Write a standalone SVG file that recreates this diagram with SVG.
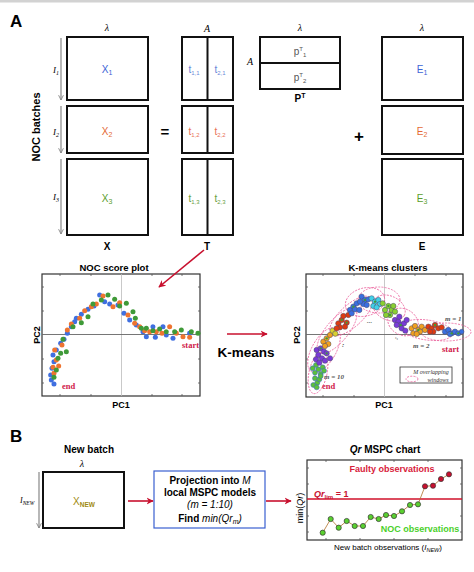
<svg xmlns="http://www.w3.org/2000/svg" width="474" height="572" viewBox="0 0 474 572">
<defs>
<style>
text{font-family:"Liberation Sans",Arial,sans-serif}
.mat{fill:#fff;stroke:#111;stroke-width:2}
.dv{stroke:#111;stroke-width:2}
.l{font-size:10px;text-anchor:middle}
.s{font-size:7px}
.b{font-weight:bold}
.it{font-style:italic;font-family:"Liberation Serif",serif}
.bl{fill:#3c64d6}
.or{fill:#e46a35}
.gr{fill:#5a9e2c}
.tbl{fill:#6a88d8}
.tor{fill:#e87058}
.tgr{fill:#6aa044}
.gax{stroke:#888;stroke-width:1.2;fill:none}
.frame{fill:#fff;stroke:#333;stroke-width:1.2}
.cv{stroke:#bbb;stroke-width:0.8}
.chz{stroke:#666;stroke-width:0.9}
.tk{stroke:#555;stroke-width:0.8}
.rl{stroke:#c8102e;stroke-width:1.6;fill:none}
.ell{fill:none;stroke:#ea5f9b;stroke-width:0.8;stroke-dasharray:2 1.2}
.pb{fill:#3f6fe0}
.po{fill:#ee7430}
.pg{fill:#3f9a38}
.kd{stroke:#4a4a6a;stroke-width:1.5}
.ml{font-size:7px;font-style:italic;font-family:"Liberation Serif",serif;fill:#555;font-weight:bold}
.se{font-family:"Liberation Serif",serif;font-weight:bold;font-size:8.5px;fill:#d0204a}
</style>
<marker id="ga" viewBox="0 0 10 10" refX="9" refY="5" markerWidth="5" markerHeight="5" orient="auto"><path d="M1,1 L9,5 L1,9" fill="none" stroke="#888" stroke-width="1.5"/></marker>
<marker id="ra" viewBox="0 0 10 10" refX="9" refY="5" markerWidth="4.5" markerHeight="4.5" orient="auto"><path d="M0,0 L10,5 L0,10 L3,5 z" fill="#c8102e"/></marker>
</defs>
<rect x="0" y="0" width="474" height="572" fill="#fff"/>
<rect x="0" y="0" width="474" height="2.5" fill="#d2d2d2"/>

<text x="10" y="27" font-size="17" class="b">A</text>
<text x="10" y="442" font-size="17" class="b">B</text>

<g id="matrix-X">
<rect class="mat" x="67" y="37" width="81" height="63"/>
<rect class="mat" x="67" y="106" width="81" height="47"/>
<rect class="mat" x="67" y="159" width="81" height="76"/>
<text class="l bl" x="107" y="73">X<tspan class="s" dy="2">1</tspan></text>
<text class="l or" x="107" y="135">X<tspan class="s" dy="2">2</tspan></text>
<text class="l gr" x="107" y="202">X<tspan class="s" dy="2">3</tspan></text>
<text class="l it" x="107" y="31" font-size="9">λ</text>
<text class="l b" x="107" y="250">X</text>
<text class="it" x="53" y="73" font-size="9">I<tspan font-size="6" dy="2">1</tspan></text>
<text class="it" x="53" y="135" font-size="9">I<tspan font-size="6" dy="2">2</tspan></text>
<text class="it" x="53" y="200" font-size="9">I<tspan font-size="6" dy="2">3</tspan></text>
<line class="gax" x1="61" y1="38" x2="61" y2="100" marker-end="url(#ga)"/>
<line class="gax" x1="61" y1="106" x2="61" y2="153" marker-end="url(#ga)"/>
<line class="gax" x1="61" y1="159" x2="61" y2="234" marker-end="url(#ga)"/>
<text class="b" x="0" y="0" font-size="11" text-anchor="middle" transform="translate(40,127) rotate(-90)">NOC batches</text>
</g>

<text x="165" y="137" font-size="15" class="b" text-anchor="middle">=</text>

<g id="matrix-T">
<rect class="mat" x="182" y="37" width="51" height="63"/>
<rect class="mat" x="182" y="106" width="51" height="47"/>
<rect class="mat" x="182" y="159" width="51" height="76"/>
<line class="dv" x1="207.5" y1="37" x2="207.5" y2="100"/>
<line class="dv" x1="207.5" y1="106" x2="207.5" y2="153"/>
<line class="dv" x1="207.5" y1="159" x2="207.5" y2="235"/>
<text class="l tbl" x="194" y="73" font-size="9">t<tspan font-size="6" dy="2">1,1</tspan></text>
<text class="l tbl" x="220" y="73" font-size="9">t<tspan font-size="6" dy="2">2,1</tspan></text>
<text class="l tor" x="194" y="135" font-size="9">t<tspan font-size="6" dy="2">1,2</tspan></text>
<text class="l tor" x="220" y="135" font-size="9">t<tspan font-size="6" dy="2">2,2</tspan></text>
<text class="l tgr" x="194" y="202" font-size="9">t<tspan font-size="6" dy="2">1,3</tspan></text>
<text class="l tgr" x="220" y="202" font-size="9">t<tspan font-size="6" dy="2">2,3</tspan></text>
<text class="l it" x="207" y="32" font-size="9">A</text>
<text class="l b" x="207" y="250">T</text>
</g>

<g id="matrix-PT">
<rect class="mat" x="260" y="37" width="80" height="52"/>
<line class="dv" x1="260" y1="63" x2="340" y2="63"/>
<text class="l" x="300" y="55" font-size="9" style="fill:#555">p<tspan font-size="6" dy="-4">T</tspan><tspan font-size="6" dy="6">1</tspan></text>
<text class="l" x="300" y="81" font-size="9" style="fill:#555">p<tspan font-size="6" dy="-4">T</tspan><tspan font-size="6" dy="6">2</tspan></text>
<text class="l it" x="300" y="31" font-size="9">λ</text>
<text class="l it" x="250" y="65" font-size="9">A</text>
<text class="l b" x="300" y="102">P<tspan font-size="7" dy="-4">T</tspan></text>
</g>

<text x="359" y="142" font-size="17" class="b" text-anchor="middle">+</text>

<g id="matrix-E">
<rect class="mat" x="382" y="37" width="81" height="63"/>
<rect class="mat" x="382" y="106" width="81" height="48"/>
<rect class="mat" x="382" y="159" width="81" height="76"/>
<text class="l bl" x="422" y="73">E<tspan class="s" dy="2">1</tspan></text>
<text class="l or" x="422" y="135">E<tspan class="s" dy="2">2</tspan></text>
<text class="l gr" x="422" y="202">E<tspan class="s" dy="2">3</tspan></text>
<text class="l it" x="422" y="31" font-size="9">λ</text>
<text class="l b" x="422" y="250">E</text>
</g>

<g id="score-plot">
<text x="114" y="271" font-size="9.5" class="b" text-anchor="middle">NOC score plot</text>
<rect class="frame" x="42" y="274" width="158" height="122"/>
<line class="cv" x1="121.5" y1="274" x2="121.5" y2="396"/>
<line class="chz" x1="42" y1="334.5" x2="200" y2="334.5"/>
<path class="tk" d="M60,274v2M91,274v2M152,274v2M182,274v2M60,396v-2M91,396v-2M152,396v-2M182,396v-2M42,287h2M42,311h2M42,359h2M42,383h2M200,287h-2M200,311h-2M200,359h-2M200,383h-2"/>
<g transform="translate(38,280) scale(0.3333)">
<g class="pb">
<circle cx="40" cy="300" r="7.5"/><circle cx="48" cy="312" r="7.5"/><circle cx="38" cy="285" r="7.5"/><circle cx="42" cy="265" r="7.5"/><circle cx="48" cy="245" r="7.5"/><circle cx="45" cy="225" r="7.5"/><circle cx="55" cy="210" r="7.5"/><circle cx="68" cy="190" r="7.5"/><circle cx="78" cy="178" r="7.5"/><circle cx="88" cy="160" r="7.5"/><circle cx="100" cy="140" r="7.5"/><circle cx="110" cy="125" r="7.5"/><circle cx="115" cy="115" r="7.5"/><circle cx="130" cy="103" r="7.5"/><circle cx="150" cy="88" r="7.5"/><circle cx="168" cy="78" r="7.5"/><circle cx="185" cy="45" r="7.5"/><circle cx="200" cy="65" r="7.5"/><circle cx="215" cy="72" r="7.5"/><circle cx="240" cy="75" r="7.5"/><circle cx="258" cy="100" r="7.5"/><circle cx="275" cy="120" r="7.5"/><circle cx="295" cy="135" r="7.5"/><circle cx="315" cy="155" r="7.5"/><circle cx="325" cy="170" r="7.5"/><circle cx="352" cy="172" r="7.5"/><circle cx="385" cy="165" r="7.5"/><circle cx="405" cy="175" r="7.5"/><circle cx="345" cy="140" r="7.5"/><circle cx="375" cy="140" r="7.5"/><circle cx="455" cy="160" r="7.5"/>
</g>
<g class="po">
<circle cx="50" cy="210" r="7.5"/><circle cx="55" cy="240" r="7.5"/><circle cx="62" cy="258" r="7.5"/><circle cx="72" cy="195" r="7.5"/><circle cx="88" cy="150" r="7.5"/><circle cx="100" cy="132" r="7.5"/><circle cx="125" cy="115" r="7.5"/><circle cx="140" cy="92" r="7.5"/><circle cx="160" cy="80" r="7.5"/><circle cx="175" cy="72" r="7.5"/><circle cx="195" cy="48" r="7.5"/><circle cx="225" cy="80" r="7.5"/><circle cx="245" cy="68" r="7.5"/><circle cx="270" cy="105" r="7.5"/><circle cx="290" cy="130" r="7.5"/><circle cx="305" cy="140" r="7.5"/><circle cx="320" cy="152" r="7.5"/><circle cx="335" cy="155" r="7.5"/><circle cx="355" cy="155" r="7.5"/><circle cx="372" cy="160" r="7.5"/><circle cx="395" cy="140" r="7.5"/><circle cx="415" cy="160" r="7.5"/><circle cx="435" cy="170" r="7.5"/><circle cx="455" cy="172" r="7.5"/><circle cx="48" cy="280" r="7.5"/><circle cx="45" cy="262" r="7.5"/>
</g>
<g class="pg">
<circle cx="48" cy="292" r="7.5"/><circle cx="55" cy="270" r="7.5"/><circle cx="60" cy="235" r="7.5"/><circle cx="68" cy="220" r="7.5"/><circle cx="75" cy="178" r="7.5"/><circle cx="85" cy="215" r="7.5"/><circle cx="105" cy="140" r="7.5"/><circle cx="130" cy="128" r="7.5"/><circle cx="150" cy="110" r="7.5"/><circle cx="165" cy="72" r="7.5"/><circle cx="190" cy="60" r="7.5"/><circle cx="210" cy="45" r="7.5"/><circle cx="230" cy="58" r="7.5"/><circle cx="245" cy="78" r="7.5"/><circle cx="265" cy="70" r="7.5"/><circle cx="285" cy="95" r="7.5"/><circle cx="292" cy="115" r="7.5"/><circle cx="310" cy="145" r="7.5"/><circle cx="325" cy="145" r="7.5"/><circle cx="345" cy="152" r="7.5"/><circle cx="365" cy="147" r="7.5"/><circle cx="385" cy="155" r="7.5"/><circle cx="410" cy="155" r="7.5"/><circle cx="430" cy="150" r="7.5"/><circle cx="460" cy="155" r="7.5"/><circle cx="480" cy="160" r="7.5"/>
</g>
</g>
<text class="se" x="182" y="348">start</text>
<text class="se" x="62" y="389">end</text>
<text x="121" y="408" font-size="9" class="b" text-anchor="middle">PC1</text>
<text x="0" y="0" font-size="9" class="b" text-anchor="middle" transform="translate(40,335) rotate(-90)">PC2</text>
</g>

<g id="kmeans-plot">
<text x="388" y="271" font-size="9.5" class="b" text-anchor="middle">K-means clusters</text>
<rect class="frame" x="306" y="274" width="157" height="123"/>
<line class="cv" x1="384.5" y1="274" x2="384.5" y2="397"/>
<line class="chz" x1="306" y1="334.5" x2="463" y2="334.5"/>
<path class="tk" d="M323,274v2M354,274v2M415,274v2M446,274v2M323,397v-2M354,397v-2M415,397v-2M446,397v-2M306,287h2M306,311h2M306,359h2M306,383h2M463,287h-2M463,311h-2M463,359h-2M463,383h-2"/>
<g id="windows">
<ellipse class="ell" cx="318" cy="373" rx="9" ry="21" transform="rotate(12 318 373)"/>
<ellipse class="ell" cx="324" cy="350" rx="12" ry="25" transform="rotate(30 324 350)"/>
<ellipse class="ell" cx="337" cy="331" rx="11" ry="28" transform="rotate(40 337 331)"/>
<ellipse class="ell" cx="351" cy="316" rx="11" ry="27" transform="rotate(48 351 316)"/>
<ellipse class="ell" cx="365" cy="302" rx="20" ry="14" transform="rotate(-15 365 302)"/>
<ellipse class="ell" cx="379" cy="300" rx="21" ry="13"/>
<ellipse class="ell" cx="389" cy="308" rx="17" ry="12" transform="rotate(25 389 308)"/>
<ellipse class="ell" cx="403" cy="322" rx="16" ry="13" transform="rotate(30 403 322)"/>
<ellipse class="ell" cx="427" cy="330" rx="26" ry="10" transform="rotate(8 427 330)"/>
<ellipse class="ell" cx="446" cy="332" rx="25" ry="9"/>
</g>
<g transform="translate(300,270) scale(0.3333)" class="kd">
<g fill="#5cc03a" stroke="#3a5fd0">
<circle cx="40" cy="345" r="7.5"/><circle cx="52" cy="338" r="7.5"/><circle cx="45" cy="325" r="7.5"/><circle cx="58" cy="328" r="7.5"/><circle cx="62" cy="312" r="7.5"/><circle cx="45" cy="308" r="7.5"/><circle cx="55" cy="298" r="7.5"/><circle cx="68" cy="292" r="7.5"/><circle cx="48" cy="285" r="7.5"/><circle cx="62" cy="318" r="7.5"/><circle cx="72" cy="302" r="7.5"/><circle cx="38" cy="295" r="7.5"/><circle cx="50" cy="352" r="7.5"/>
</g>
<g fill="#7a3ad8">
<circle cx="50" cy="240" r="8"/><circle cx="62" cy="235" r="8"/><circle cx="72" cy="245" r="8"/><circle cx="55" cy="255" r="8"/><circle cx="66" cy="265" r="8"/><circle cx="80" cy="250" r="8"/><circle cx="90" cy="265" r="8"/><circle cx="75" cy="272" r="8"/><circle cx="48" cy="268" r="8"/><circle cx="58" cy="278" r="8"/>
</g>
<g fill="#f0a020">
<circle cx="70" cy="215" r="8"/><circle cx="80" cy="205" r="8"/><circle cx="90" cy="195" r="8"/><circle cx="85" cy="222" r="8"/><circle cx="75" cy="228" r="8"/>
</g>
<g fill="#d8d030"><circle cx="98" cy="182" r="8"/><circle cx="106" cy="191" r="8"/></g>
<g fill="#e03a10">
<circle cx="115" cy="160" r="8"/><circle cx="125" cy="150" r="8"/><circle cx="130" cy="138" r="8"/><circle cx="140" cy="158" r="8"/><circle cx="120" cy="172" r="8"/><circle cx="135" cy="170" r="8"/><circle cx="110" cy="175" r="8"/><circle cx="145" cy="135" r="8"/>
</g>
<g fill="#3a6fe0">
<circle cx="150" cy="120" r="8"/><circle cx="160" cy="110" r="8"/><circle cx="170" cy="100" r="8"/><circle cx="155" cy="130" r="8"/><circle cx="165" cy="118" r="8"/><circle cx="178" cy="120" r="8"/>
<circle cx="185" cy="80" r="8"/><circle cx="195" cy="90" r="8"/><circle cx="190" cy="102" r="8"/><circle cx="205" cy="88" r="8"/><circle cx="200" cy="105" r="8"/><circle cx="180" cy="95" r="8"/>
</g>
<g fill="#40d0e8">
<circle cx="215" cy="85" r="8"/><circle cx="225" cy="95" r="8"/><circle cx="220" cy="108" r="8"/><circle cx="235" cy="90" r="8"/><circle cx="240" cy="102" r="8"/><circle cx="230" cy="112" r="8"/>
</g>
<g fill="#3f9a38" stroke="none">
<circle cx="125" cy="150" r="3.5"/><circle cx="140" cy="158" r="3.5"/><circle cx="160" cy="110" r="3.5"/><circle cx="195" cy="90" r="3.5"/><circle cx="225" cy="95" r="3.5"/><circle cx="62" cy="235" r="3.5"/><circle cx="80" cy="250" r="3.5"/><circle cx="80" cy="205" r="3.5"/>
</g>
</g>
<g transform="translate(380,270) scale(0.3333)" class="kd">
<g fill="#8ad030">
<circle cx="8" cy="100" r="8"/><circle cx="15" cy="120" r="8"/><circle cx="25" cy="108" r="8"/><circle cx="35" cy="120" r="8"/><circle cx="30" cy="135" r="8"/><circle cx="18" cy="135" r="8"/><circle cx="45" cy="125" r="8"/><circle cx="40" cy="108" r="8"/>
</g>
<g fill="#7a3ad8">
<circle cx="45" cy="150" r="8"/><circle cx="55" cy="155" r="8"/><circle cx="62" cy="165" r="8"/><circle cx="72" cy="160" r="8"/><circle cx="65" cy="175" r="8"/><circle cx="76" cy="182" r="8"/><circle cx="80" cy="150" r="8"/><circle cx="50" cy="165" r="8"/><circle cx="58" cy="140" r="8"/>
</g>
<g fill="#f0a020">
<circle cx="95" cy="175" r="8"/><circle cx="105" cy="168" r="8"/><circle cx="115" cy="180" r="8"/><circle cx="125" cy="170" r="8"/><circle cx="120" cy="185" r="8"/><circle cx="135" cy="180" r="8"/><circle cx="100" cy="190" r="8"/><circle cx="110" cy="192" r="8"/>
</g>
<g fill="#e03a10">
<circle cx="145" cy="170" r="8"/><circle cx="155" cy="175" r="8"/><circle cx="165" cy="165" r="8"/><circle cx="175" cy="175" r="8"/><circle cx="160" cy="185" r="8"/><circle cx="150" cy="185" r="8"/><circle cx="185" cy="172" r="8"/>
</g>
<g fill="#3a6fe0">
<circle cx="195" cy="185" r="8"/><circle cx="205" cy="180" r="8"/><circle cx="215" cy="190" r="8"/><circle cx="225" cy="185" r="8"/><circle cx="235" cy="190" r="8"/><circle cx="245" cy="185" r="7"/><circle cx="210" cy="192" r="8"/>
</g>
<g fill="#3f9a38" stroke="none">
<circle cx="25" cy="108" r="3.5"/><circle cx="30" cy="135" r="3.5"/><circle cx="62" cy="165" r="3.5"/><circle cx="115" cy="180" r="3.5"/><circle cx="165" cy="165" r="3.5"/><circle cx="215" cy="190" r="3.5"/><circle cx="235" cy="190" r="3.5"/>
</g>
</g>
<text class="ml" x="445" y="321">m = 1</text>
<text class="ml" x="413" y="348">m = 2</text>
<text class="ml" x="324" y="379">m = 10</text>
<text class="ml" x="367" y="323">...</text>
<text class="ml" x="0" y="0" transform="translate(395,338) rotate(35)">..</text>
<text class="ml" x="0" y="0" transform="translate(343,347) rotate(-70)">..</text>
<text class="se" x="442" y="352">start</text>
<text class="se" x="322" y="389">end</text>
<rect x="400" y="367" width="52" height="16" fill="#fff" stroke="#333" stroke-width="0.8"/>
<text x="431" y="374" font-size="6" class="it" text-anchor="middle" style="fill:#333">M overlapping</text>
<ellipse class="ell" cx="412" cy="379" rx="6" ry="2.8"/>
<text x="438" y="381.5" font-size="6" class="it" text-anchor="middle" style="fill:#333">windows</text>
<text x="384" y="408" font-size="9" class="b" text-anchor="middle">PC1</text>
<text x="0" y="0" font-size="9" class="b" text-anchor="middle" transform="translate(300,335) rotate(-90)">PC2</text>
</g>

<g id="new-batch">
<text x="89" y="453" font-size="10" class="b" text-anchor="middle">New batch</text>
<text class="l it" x="82" y="467" font-size="9">λ</text>
<rect class="mat" x="43" y="472" width="81" height="56"/>
<text x="84" y="505" font-size="10" text-anchor="middle" style="fill:#a08a10">X<tspan font-size="6.5" dy="2" font-weight="bold">NEW</tspan></text>
<text class="it" x="20" y="503" font-size="8">I<tspan font-size="5.5" dy="2">NEW</tspan></text>
<line class="gax" x1="39" y1="472" x2="39" y2="528" stroke-width="1" marker-end="url(#ga)"/>
</g>

<g id="projection">
<rect x="154" y="471" width="111" height="57" fill="#fff" stroke="#3a5fd0" stroke-width="1.2"/>
<text x="210" y="484" font-size="10" class="b" text-anchor="middle">Projection into <tspan font-style="italic" font-weight="normal">M</tspan></text>
<text x="210" y="496" font-size="10" class="b" text-anchor="middle">local MSPC models</text>
<text x="210" y="508" font-size="10" font-style="italic" text-anchor="middle">(m = 1:10)</text>
<text x="210" y="522" font-size="10" class="b" text-anchor="middle">Find <tspan font-style="italic" font-weight="normal">min(Qr<tspan font-size="7" dy="2">m</tspan><tspan dy="-2">)</tspan></tspan></text>
</g>

<g id="qr-chart">
<text x="385" y="453" font-size="10" class="b" text-anchor="middle"><tspan font-style="italic">Qr</tspan> MSPC chart</text>
<rect class="frame" x="307" y="460" width="155" height="80"/>
<path class="tk" d="M307,468h2M307,484h2M307,516h2M307,532h2M462,468h-2M462,484h-2M462,516h-2M462,532h-2M326,460v2M360,460v2M394,460v2M428,460v2M326,540v-2M360,540v-2M394,540v-2M428,540v-2"/>
<line x1="307" y1="499" x2="462" y2="499" stroke="#d0102a" stroke-width="1.4"/>
<text x="392" y="472" font-size="9" class="b" text-anchor="middle" style="fill:#d8203a">Faulty observations</text>
<text x="314" y="497" font-size="9" class="b" style="fill:#c8102e"><tspan font-style="italic">Qr</tspan><tspan font-size="6" dy="2">lim</tspan><tspan dy="-2"> = 1</tspan></text>
<text x="420" y="532" font-size="9" class="b" text-anchor="middle" style="fill:#4ad02a">NOC observations</text>
<polyline fill="none" stroke="#b0702a" stroke-width="0.8" points="322.7,532.7 330.7,519 338.7,527.7 346.7,521 354.7,526 363,526 370.7,517 378.7,519 386,515 394,516 402,511.3 410,505 418,504.3 425,486.3 433,485.7 441,479 449,474.3"/>
<g fill="#5ad030" stroke="#333" stroke-width="0.7">
<circle cx="322.7" cy="532.7" r="2.6"/><circle cx="330.7" cy="519" r="2.6"/><circle cx="338.7" cy="527.7" r="2.6"/><circle cx="346.7" cy="521" r="2.6"/><circle cx="354.7" cy="526" r="2.6"/><circle cx="363" cy="526" r="2.6"/><circle cx="370.7" cy="517" r="2.6"/><circle cx="378.7" cy="519" r="2.6"/><circle cx="386" cy="515" r="2.6"/><circle cx="394" cy="516" r="2.6"/><circle cx="402" cy="511.3" r="2.6"/><circle cx="410" cy="505" r="2.6"/><circle cx="418" cy="504.3" r="2.6"/>
</g>
<g fill="#c8102e" stroke="#333" stroke-width="0.7">
<circle cx="425" cy="486.3" r="2.6"/><circle cx="433" cy="485.7" r="2.6"/><circle cx="441" cy="479" r="2.6"/><circle cx="449" cy="474.3" r="2.6"/>
</g>
<text x="0" y="0" font-size="9" text-anchor="middle" transform="translate(303,508) rotate(-90)">min(<tspan font-style="italic">Qr</tspan>)</text>
<text x="388" y="550" font-size="8" text-anchor="middle">New batch observations (<tspan font-style="italic">I</tspan><tspan font-size="5.5" dy="1.5" font-style="italic">NEW</tspan><tspan dy="-1.5">)</tspan></text>
</g>

<g id="connectors">
<line class="rl" x1="204" y1="250" x2="159" y2="287" marker-end="url(#ra)"/>
<line class="rl" x1="227" y1="334" x2="267" y2="334" marker-end="url(#ra)"/>
<line class="rl" x1="128" y1="501" x2="153" y2="501" marker-end="url(#ra)"/>
<line class="rl" x1="266" y1="501" x2="291" y2="501" marker-end="url(#ra)"/>
</g>
<text x="246" y="357" font-size="13.5" class="b" text-anchor="middle">K-means</text>
</svg>
